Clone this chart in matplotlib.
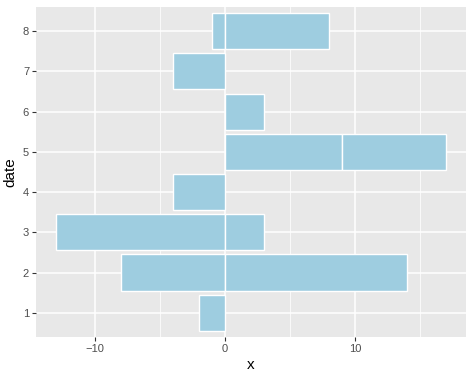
import numpy as np
import matplotlib.pyplot as plt

plt.rcParams['font.family'] = ['Liberation Sans', 'DejaVu Sans']

# one row per bar segment
date = [1, 2, 2, 3, 3, 4, 5, 5, 6, 7, 8, 8]
x = [-2, -8, 14, -13, 3, -4, 9, 8, 3, -4, -1, 8]
date_levels = [1, 2, 3, 4, 5, 6, 7, 8]
x_ticks = [-10, 0, 10]
x_minor = [-5, 5, 15]

fig = plt.figure(figsize=(4.74, 3.79), dpi=100)
ax = fig.add_axes([0.076, 0.111, 0.907, 0.8705])
ax.set_facecolor("#E8E8E8")
fig.patch.set_facecolor("white")

# stack positives and negatives separately, like ggplot position_stack
pos = {d: 0.0 for d in date_levels}
neg = {d: 0.0 for d in date_levels}
for d, v in zip(date, x):
    if v >= 0:
        left = pos[d]
        pos[d] += v
    else:
        neg[d] += v
        left = neg[d]
    ax.barh(d, abs(v), left=left, height=0.9, color="#9ECDE0",
            edgecolor="white", linewidth=1.0, zorder=3)

ax.set_xlim(-14.5, 18.5)
ax.set_ylim(0.4, 8.6)
ax.set_xticks(x_ticks)
ax.set_xticks(x_minor, minor=True)
ax.set_yticks(date_levels)
ax.set_yticklabels([str(d) for d in date_levels])

ax.grid(which="major", color="white", linewidth=1.1, zorder=1)
ax.grid(which="minor", axis="x", color="white", linewidth=0.55, zorder=1)
ax.set_axisbelow(True)
for s in ax.spines.values():
    s.set_visible(False)

ax.tick_params(which="major", length=3, width=0.8, color="#333333",
               labelsize=8, labelcolor="#4D4D4D", pad=2)
ax.tick_params(which="minor", length=0)

ax.set_xlabel("x", fontsize=11, color="black", labelpad=3)
ax.set_ylabel("date", fontsize=11, color="black", labelpad=4)

fig.savefig("out.png", dpi=100)
